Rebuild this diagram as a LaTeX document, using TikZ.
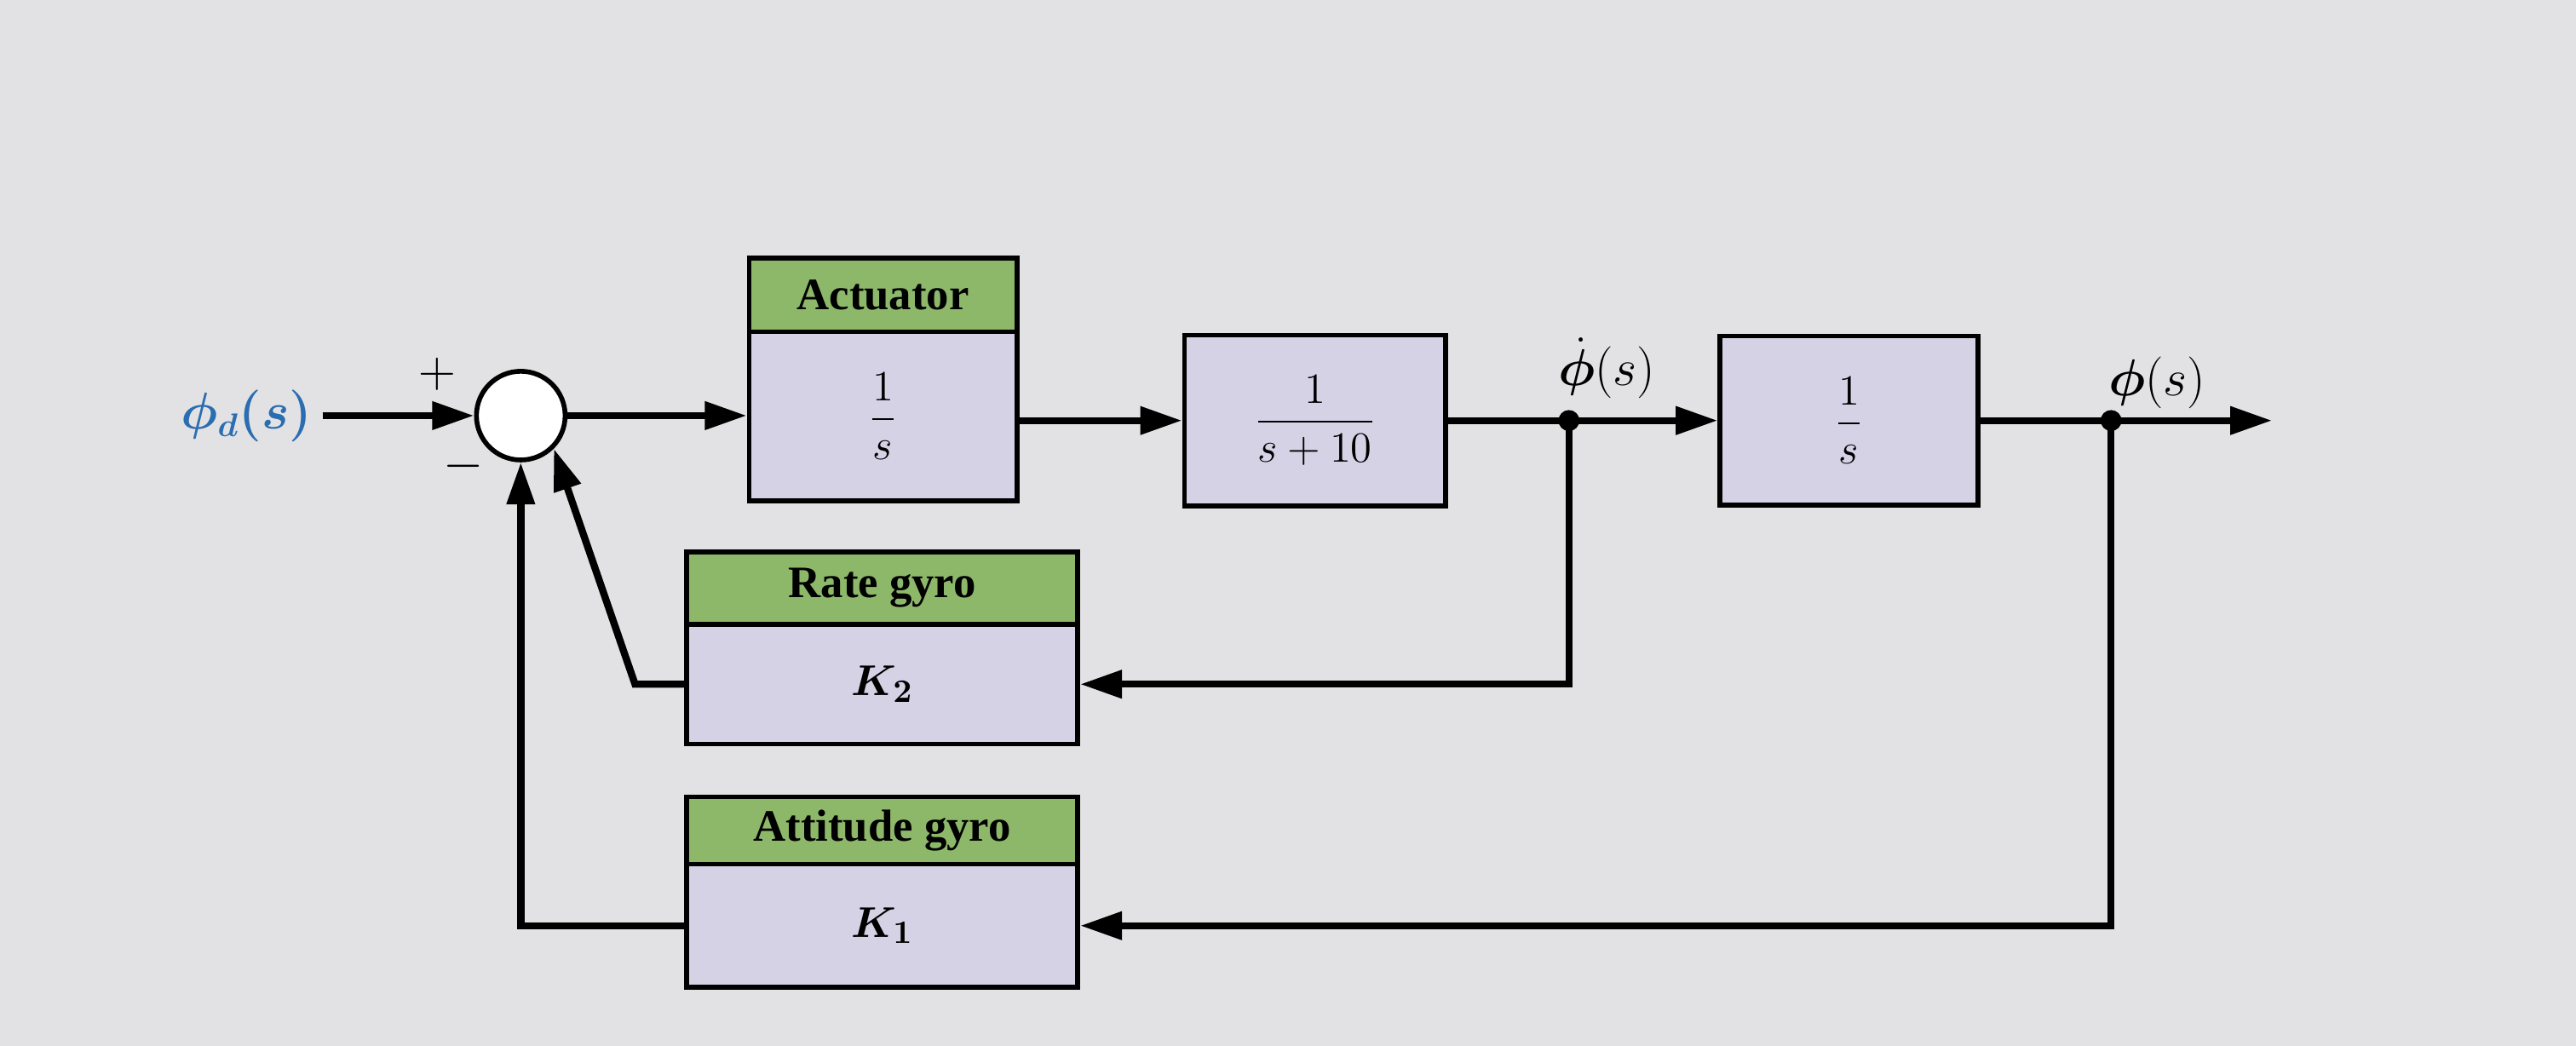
\documentclass[tikz,border=0pt]{standalone}
\usepackage{amsmath,bm}
\usepackage{fontspec}
\setmainfont{Liberation Serif}
\usetikzlibrary{arrows.meta}
\definecolor{bg}{HTML}{E2E2E4}
\definecolor{hdr}{HTML}{8DB86A}
\definecolor{bod}{HTML}{D5D2E6}
\definecolor{inblue}{HTML}{2A6DB0}
\tikzset{
  hdrbox/.style={draw=black,line width=1.6pt,fill=hdr,font=\fontsize{15}{17}\selectfont\bfseries},
  bodbox/.style={draw=black,line width=1.6pt,fill=bod,font=\fontsize{15}{17}\selectfont},
  sig/.style={line width=2.4pt,-{Triangle[length=14pt,width=9pt]}},
  ln/.style={line width=2.4pt},
  dotc/.style={circle,fill=black,inner sep=0pt,minimum size=7pt},
  lab/.style={font=\fontsize{16}{18}\selectfont}
}
\begin{document}
\begin{tikzpicture}[x=0.01929cm,y=-0.01929cm]
\fill[bg] (0,0) rectangle (1568,636.6);
\useasboundingbox (0,0) rectangle (1568,636.6);
% blocks
\node[hdrbox,minimum width=163*0.01929cm,minimum height=45*0.01929cm] (acth) at (537.5,179.5) {Actuator};
\node[bodbox,minimum width=163*0.01929cm,minimum height=103*0.01929cm] (act) at (537.5,253.5) {$\dfrac{1}{s}$};
\node[bodbox,minimum width=159*0.01929cm,minimum height=104*0.01929cm] (g2) at (800.5,256) {$\dfrac{1}{s+10}$};
\node[bodbox,minimum width=157*0.01929cm,minimum height=103*0.01929cm] (g3) at (1125.5,256) {$\dfrac{1}{s}$};
\node[hdrbox,minimum width=238*0.01929cm,minimum height=44*0.01929cm] (rgh) at (537,358) {Rate gyro};
\node[bodbox,minimum width=238*0.01929cm,minimum height=73*0.01929cm] (rg) at (537,416.5) {$\bm{K_2}$};
\node[hdrbox,minimum width=238*0.01929cm,minimum height=41*0.01929cm] (agh) at (537,505.5) {Attitude gyro};
\node[bodbox,minimum width=238*0.01929cm,minimum height=75*0.01929cm] (ag) at (537,563.5) {$\bm{K_1}$};
% sum
\node[draw,line width=1.6pt,fill=white,circle,minimum size=54*0.01929cm,inner sep=0pt] (sum) at (317,253) {};
\node[lab,text=inblue] (in) at (150,253) {$\bm{\phi_d(s)}$};
\node[lab] (plus) at (266,228) {$+$};
\node[lab] (minus) at (282,284) {$-$};
\coordinate (b1) at (955,256);
\coordinate (b2) at (1285,256);
\coordinate (out) at (1383,256);
\node[dotc] (d1) at (b1) {};
\node[dotc] (d2) at (b2) {};
\node[lab] (l1) at (978,224) {$\dot{\bm{\phi}}(s)$};
\node[lab] (l2) at (1313,233) {$\bm{\phi}(s)$};
% forward
\draw[sig] (in.east) -- (sum.west);
\draw[sig] (sum.east) -- (act.west|-sum.east);
\draw[sig] (act.east|-g2.west) -- (g2.west);
\draw[ln] (g2.east) -- (b1);
\draw[sig] (b1) -- (g3.west);
\draw[ln] (g3.east) -- (b2);
\draw[sig] (b2) -- (out);
% feedback
\draw[sig] (b1) |- (rg.east);
\draw[sig] (rg.west) -- ++(-30,0) -- (sum.south east);
\draw[sig] (b2) |- (ag.east);
\draw[sig] (ag.west) -| (sum.south);
\end{tikzpicture}
\end{document}
